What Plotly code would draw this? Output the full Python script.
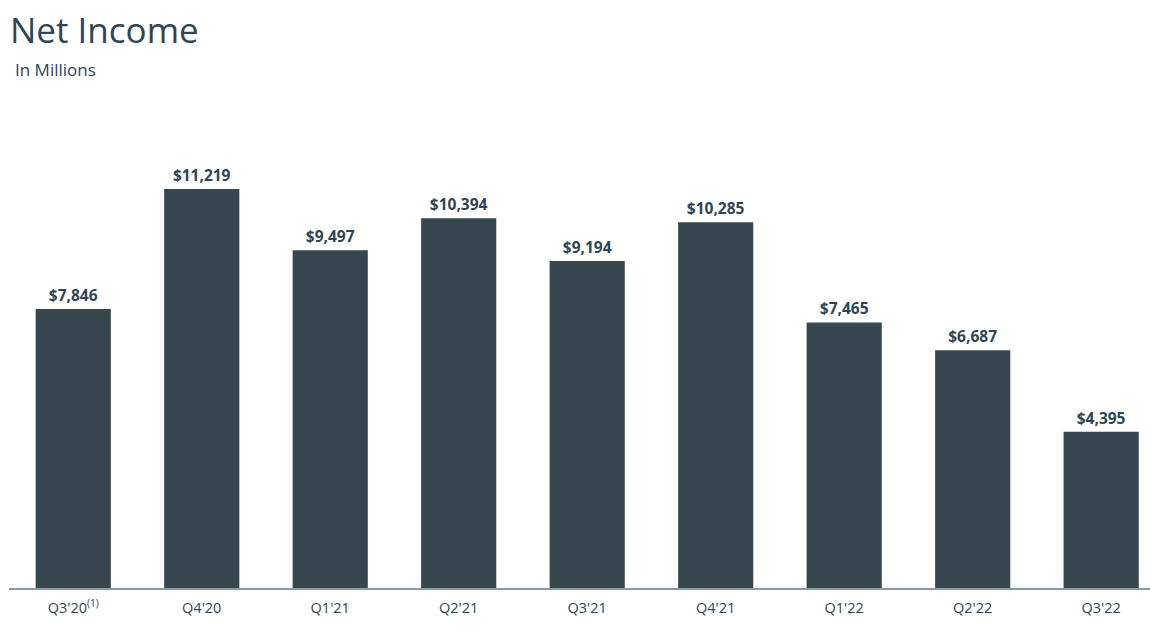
import plotly.graph_objects as go

categories = ["Q3'20<sup>(1)</sup>", "Q4'20", "Q1'21", "Q2'21", "Q3'21", "Q4'21", "Q1'22", "Q2'22", "Q3'22"]
net_income = [7846, 11219, 9497, 10394, 9194, 10285, 7465, 6687, 4395]
labels = ["$" + format(v, ",") for v in net_income]

bar_color = "#36474f"
text_color = "#2f4554"

fig = go.Figure(go.Bar(
    x=list(range(len(categories))),
    y=net_income,
    text=labels,
    textposition="outside",
    textfont=dict(family="Open Sans", size=15.5, color=text_color, weight="bold"),
    marker=dict(color=bar_color, line=dict(width=0)),
    width=0.585,
    cliponaxis=False,
))

fig.update_layout(
    width=1150, height=642,
    margin=dict(l=9, r=0, t=100, b=54),
    plot_bgcolor="white", paper_bgcolor="white",
    showlegend=False,
    xaxis=dict(
        tickmode="array", tickvals=list(range(len(categories))), ticktext=categories,
        range=[-0.5, 8.38], showgrid=False, zeroline=False,
        showline=True, linecolor="#8a9aa5", linewidth=1.5,
        ticks="", ticklabelstandoff=6,
        tickfont=dict(family="Open Sans", size=14.5, color=text_color),
    ),
    yaxis=dict(range=[0, 13720], visible=False, showgrid=False, zeroline=False),
    annotations=[
        dict(text="Net Income", x=8, y=4, xref="paper", yref="paper",
             xanchor="left", yanchor="top", showarrow=False,
             font=dict(family="Open Sans", size=35, color=text_color)),
        dict(text="In Millions", x=13, y=56, xref="paper", yref="paper",
             xanchor="left", yanchor="top", showarrow=False,
             font=dict(family="Open Sans", size=17, color=text_color)),
    ],
)
# position title annotations in pixels: convert to paper coords
H_plot = 642 - 100 - 54
W_plot = 1150 - 9
for ann in fig.layout.annotations:
    px_x, px_y = ann.x, ann.y
    ann.x = (px_x - 9) / W_plot
    ann.y = (642 - 54 - px_y) / H_plot
fig.write_html("out.html")
